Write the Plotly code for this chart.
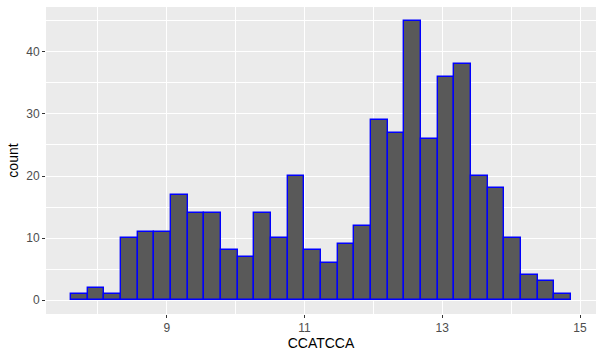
import plotly.graph_objects as go

counts = [1, 2, 1, 10, 11, 11, 17, 14, 14, 8, 7, 14, 10, 20, 8, 6, 9, 12,
          29, 27, 45, 26, 36, 38, 20, 18, 10, 4, 3, 1]
bin_start = 7.609
bin_width = 0.242
x_ticks = [9, 11, 13, 15]
y_ticks = [0, 10, 20, 30, 40]

centers = [bin_start + (i + 0.5) * bin_width for i in range(len(counts))]
lo = bin_start
hi = bin_start + bin_width * len(counts)
span = hi - lo
ymax = max(counts)

fig = go.Figure(go.Bar(
    x=centers, y=counts, width=bin_width,
    marker=dict(color="#595959", line=dict(color="#0000FF", width=1.4)),
))

fig.update_layout(
    width=604, height=359,
    margin=dict(l=46, r=8, t=7, b=45),
    paper_bgcolor="white", plot_bgcolor="#EBEBEB",
    font=dict(family="Liberation Sans, Arial", color="#000000"),
    showlegend=False, bargap=0,
)
fig.update_xaxes(
    automargin=False,
    range=[lo - 0.05 * span, hi + 0.05 * span],
    tickvals=x_ticks, ticktext=[str(v) for v in x_ticks],
    showgrid=True, gridcolor="white", gridwidth=1.1,
    minor=dict(tickvals=[8, 10, 12, 14], showgrid=True, gridcolor="white", gridwidth=0.5, ticks=""),
    zeroline=False, showline=False,
    ticks="outside", ticklen=3, tickcolor="#333333", tickwidth=1,
    tickfont=dict(size=12, color="#4D4D4D"),
    title=dict(text="CCATCCA", font=dict(size=14), standoff=2),
)
fig.update_yaxes(
    automargin=False,
    range=[-0.05 * ymax, 1.05 * ymax],
    tickvals=y_ticks, ticktext=[str(v) for v in y_ticks],
    showgrid=True, gridcolor="white", gridwidth=1.1,
    minor=dict(tickvals=[5, 15, 25, 35, 45], showgrid=True, gridcolor="white", gridwidth=0.5, ticks=""),
    zeroline=False, showline=False,
    ticks="outside", ticklen=3, tickcolor="#333333", tickwidth=1,
    tickfont=dict(size=12, color="#4D4D4D"),
    title=dict(text="count", font=dict(size=14), standoff=4),
)

fig.write_html("out.html", config={"displayModeBar": False},
               post_script="document.body.style.margin='0';document.body.style.overflow='hidden';")
